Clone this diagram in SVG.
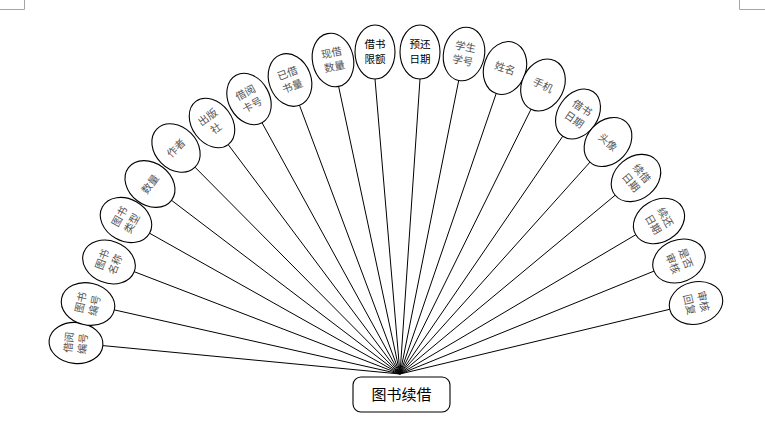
<svg xmlns="http://www.w3.org/2000/svg" width="765" height="428" viewBox="0 0 765 428">
<style>
.c line{stroke:#000;stroke-width:1}
.n ellipse{fill:#fff;stroke:#000;stroke-width:1.1}
.n text{font-family:"Noto Sans CJK SC","Noto Sans",sans-serif;font-size:10.5px;fill:#555;text-anchor:middle}
.n text.k{fill:#000;font-size:10.5px}
.mark{stroke:#a6a6a6;stroke-width:1;fill:none}
</style>
<rect width="765" height="428" fill="#fff"/>
<path class="mark" d="M0 9.5H24.5V0M765 9.5H739.5V0"/>
<g id="connectors" class="c">
<line x1="400" y1="374" x2="102.9" y2="345.6"/>
<line x1="400" y1="374" x2="114.3" y2="309.9"/>
<line x1="400" y1="374" x2="134.2" y2="271.7"/>
<line x1="400" y1="374" x2="149.5" y2="233.2"/>
<line x1="400" y1="374" x2="171.5" y2="200.3"/>
<line x1="400" y1="374" x2="195.0" y2="167.2"/>
<line x1="400" y1="374" x2="228.2" y2="144.6"/>
<line x1="400" y1="374" x2="262.0" y2="122.7"/>
<line x1="400" y1="374" x2="299.5" y2="105.3"/>
<line x1="400" y1="374" x2="338.6" y2="86.4"/>
<line x1="400" y1="374" x2="375" y2="79"/>
<line x1="400" y1="374" x2="420" y2="79"/>
<line x1="400" y1="374" x2="458.7" y2="80.5"/>
<line x1="400" y1="374" x2="496.2" y2="93.5"/>
<line x1="400" y1="374" x2="531.0" y2="109.2"/>
<line x1="400" y1="374" x2="562.7" y2="136.3"/>
<line x1="400" y1="374" x2="590.0" y2="162.1"/>
<line x1="400" y1="374" x2="615.2" y2="195.2"/>
<line x1="400" y1="374" x2="635.8" y2="234.7"/>
<line x1="400" y1="374" x2="654.0" y2="271.1"/>
<line x1="400" y1="374" x2="669.7" y2="309.3"/>
</g>
<g id="n1" class="n" transform="translate(76,343) rotate(-84.5)"><ellipse rx="20.5" ry="27"/><text y="-3.5">借阅</text><text y="10.5">编号</text></g>
<g id="n2" class="n" transform="translate(88,304) rotate(-77.4)"><ellipse rx="21" ry="27"/><text y="-3.5">图书</text><text y="10.5">编号</text></g>
<g id="n3" class="n" transform="translate(109,262) rotate(-68.9)"><ellipse rx="21" ry="27"/><text y="-3.5">图书</text><text y="10.5">名称</text></g>
<g id="n4" class="n" transform="translate(126,220) rotate(-60.7)"><ellipse rx="21" ry="27"/><text y="-3.5">图书</text><text y="10.5">类型</text></g>
<g id="n5" class="n" transform="translate(150,184) rotate(-52.8)"><ellipse rx="21" ry="27"/><text y="4">数量</text></g>
<g id="n6" class="n" transform="translate(176,148) rotate(-44.7)"><ellipse rx="21" ry="27"/><text y="4">作者</text></g>
<g id="n7" class="n" transform="translate(212,123) rotate(-36.8)"><ellipse rx="20" ry="27"/><text y="-3.5">出版</text><text y="10.5">社</text></g>
<g id="n8" class="n" transform="translate(249,99) rotate(-28.8)"><ellipse rx="20.5" ry="27"/><text y="-3.5">借阅</text><text y="10.5">卡号</text></g>
<g id="n9" class="n" transform="translate(290,80) rotate(-20.5)"><ellipse rx="21" ry="27"/><text y="-3.5">已借</text><text y="10.5">书量</text></g>
<g id="n10" class="n" transform="translate(333,60) rotate(-12)"><ellipse rx="20.5" ry="27"/><text y="-3.5">现借</text><text y="10.5">数量</text></g>
<g id="n11" class="n" transform="translate(375,52)"><ellipse rx="20" ry="27"/><text class="k" y="-4.5">借书</text><text class="k" y="10.5">限额</text></g>
<g id="n12" class="n" transform="translate(420,52)"><ellipse rx="20" ry="27"/><text class="k" y="-4.5">预还</text><text class="k" y="10.5">日期</text></g>
<g id="n13" class="n" transform="translate(464,54) rotate(11.3)"><ellipse rx="20.5" ry="27"/><text y="-3.5">学生</text><text y="10.5">学号</text></g>
<g id="n14" class="n" transform="translate(505,68) rotate(18.9)"><ellipse rx="21" ry="27"/><text y="4">姓名</text></g>
<g id="n15" class="n" transform="translate(543,85) rotate(26.3)"><ellipse rx="21" ry="27"/><text y="4">手机</text></g>
<g id="n16" class="n" transform="translate(578,114) rotate(34.4)"><ellipse rx="20" ry="27"/><text y="-3.5">借书</text><text y="10.5">日期</text></g>
<g id="n17" class="n" transform="translate(608,142) rotate(41.9)"><ellipse rx="21" ry="27"/><text y="4">头像</text></g>
<g id="n18" class="n" transform="translate(636,178) rotate(50.3)"><ellipse rx="21" ry="27"/><text y="-3.5">续借</text><text y="10.5">日期</text></g>
<g id="n19" class="n" transform="translate(659,221) rotate(59.4)"><ellipse rx="21" ry="27"/><text y="-3.5">续还</text><text y="10.5">日期</text></g>
<g id="n20" class="n" transform="translate(679,261) rotate(67.9)"><ellipse rx="21" ry="27"/><text y="-3.5">是否</text><text y="10.5">审核</text></g>
<g id="n21" class="n" transform="translate(696,303) rotate(76.5)"><ellipse rx="21" ry="27"/><text y="-3.5">审核</text><text y="10.5">回复</text></g>
<g id="main">
<rect x="353" y="377" width="97" height="35" rx="8" fill="#fff" stroke="#000" stroke-width="1.1"/>
<text x="401.5" y="400" font-family="'Noto Sans CJK SC','Noto Sans',sans-serif" font-size="15" text-anchor="middle" fill="#000">图书续借</text>
</g>
</svg>
